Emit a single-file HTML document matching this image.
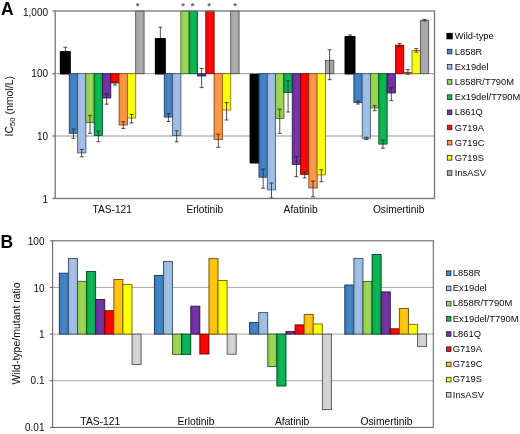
<!DOCTYPE html>
<html lang="en"><head><meta charset="utf-8"><title>Figure</title>
<style>html,body{margin:0;padding:0;background:#fff}svg{display:block}</style></head>
<body><svg width="520" height="434" viewBox="0 0 520 434">
<rect width="520" height="434" fill="#fff"/>
<defs>
<linearGradient id="aWT" x1="0" x2="1" y1="0" y2="0"><stop offset="0" stop-color="#000000"/><stop offset="0.55" stop-color="#000000"/><stop offset="1" stop-color="#000000"/></linearGradient>
<linearGradient id="aL858R" x1="0" x2="1" y1="0" y2="0"><stop offset="0" stop-color="#3a7aba"/><stop offset="0.55" stop-color="#4686c8"/><stop offset="1" stop-color="#3a7aba"/></linearGradient>
<linearGradient id="aEx19del" x1="0" x2="1" y1="0" y2="0"><stop offset="0" stop-color="#96b6e0"/><stop offset="0.55" stop-color="#a4c2e8"/><stop offset="1" stop-color="#96b6e0"/></linearGradient>
<linearGradient id="aLT" x1="0" x2="1" y1="0" y2="0"><stop offset="0" stop-color="#8ecc4a"/><stop offset="0.55" stop-color="#9cd85c"/><stop offset="1" stop-color="#8ecc4a"/></linearGradient>
<linearGradient id="aET" x1="0" x2="1" y1="0" y2="0"><stop offset="0" stop-color="#00aa4c"/><stop offset="0.55" stop-color="#10b858"/><stop offset="1" stop-color="#00aa4c"/></linearGradient>
<linearGradient id="aL861Q" x1="0" x2="1" y1="0" y2="0"><stop offset="0" stop-color="#6c2c9c"/><stop offset="0.55" stop-color="#7636a8"/><stop offset="1" stop-color="#6c2c9c"/></linearGradient>
<linearGradient id="aG719A" x1="0" x2="1" y1="0" y2="0"><stop offset="0" stop-color="#f80000"/><stop offset="0.55" stop-color="#ff0808"/><stop offset="1" stop-color="#f80000"/></linearGradient>
<linearGradient id="aG719C" x1="0" x2="1" y1="0" y2="0"><stop offset="0" stop-color="#fa8e3c"/><stop offset="0.55" stop-color="#ff9a4c"/><stop offset="1" stop-color="#fa8e3c"/></linearGradient>
<linearGradient id="aG719S" x1="0" x2="1" y1="0" y2="0"><stop offset="0" stop-color="#fafa00"/><stop offset="0.55" stop-color="#ffff18"/><stop offset="1" stop-color="#fafa00"/></linearGradient>
<linearGradient id="aIns" x1="0" x2="1" y1="0" y2="0"><stop offset="0" stop-color="#a2a2a2"/><stop offset="0.55" stop-color="#adadad"/><stop offset="1" stop-color="#a2a2a2"/></linearGradient>
<linearGradient id="bWT" x1="0" x2="1" y1="0" y2="0"><stop offset="0" stop-color="#000000"/><stop offset="0.55" stop-color="#000000"/><stop offset="1" stop-color="#000000"/></linearGradient>
<linearGradient id="bL858R" x1="0" x2="1" y1="0" y2="0"><stop offset="0" stop-color="#3a7aba"/><stop offset="0.55" stop-color="#4686c8"/><stop offset="1" stop-color="#3a7aba"/></linearGradient>
<linearGradient id="bEx19del" x1="0" x2="1" y1="0" y2="0"><stop offset="0" stop-color="#96b6e0"/><stop offset="0.55" stop-color="#a4c2e8"/><stop offset="1" stop-color="#96b6e0"/></linearGradient>
<linearGradient id="bLT" x1="0" x2="1" y1="0" y2="0"><stop offset="0" stop-color="#8ecc4a"/><stop offset="0.55" stop-color="#9cd85c"/><stop offset="1" stop-color="#8ecc4a"/></linearGradient>
<linearGradient id="bET" x1="0" x2="1" y1="0" y2="0"><stop offset="0" stop-color="#00aa4c"/><stop offset="0.55" stop-color="#10b858"/><stop offset="1" stop-color="#00aa4c"/></linearGradient>
<linearGradient id="bL861Q" x1="0" x2="1" y1="0" y2="0"><stop offset="0" stop-color="#6c2c9c"/><stop offset="0.55" stop-color="#7636a8"/><stop offset="1" stop-color="#6c2c9c"/></linearGradient>
<linearGradient id="bG719A" x1="0" x2="1" y1="0" y2="0"><stop offset="0" stop-color="#f80000"/><stop offset="0.55" stop-color="#ff0808"/><stop offset="1" stop-color="#f80000"/></linearGradient>
<linearGradient id="bG719C" x1="0" x2="1" y1="0" y2="0"><stop offset="0" stop-color="#fabc00"/><stop offset="0.55" stop-color="#ffc818"/><stop offset="1" stop-color="#fabc00"/></linearGradient>
<linearGradient id="bG719S" x1="0" x2="1" y1="0" y2="0"><stop offset="0" stop-color="#fafa00"/><stop offset="0.55" stop-color="#ffff18"/><stop offset="1" stop-color="#fafa00"/></linearGradient>
<linearGradient id="bIns" x1="0" x2="1" y1="0" y2="0"><stop offset="0" stop-color="#cacaca"/><stop offset="0.55" stop-color="#d6d6d6"/><stop offset="1" stop-color="#cacaca"/></linearGradient>
</defs>
<g stroke="#8a8a8a" stroke-width="0.9" fill="none">
<line x1="55.2" y1="136.0" x2="434.5" y2="136.0"/>
<line x1="55.2" y1="73.7" x2="434.5" y2="73.7"/>
</g>
<g><rect x="59.85" y="51.00" width="11.00" height="23.50" rx="1.2" fill="#000"/><rect x="69.20" y="73.70" width="8.41" height="59.60" fill="url(#aL858R)" stroke="#18334e" stroke-width="0.75"/><rect x="77.51" y="73.70" width="8.41" height="79.20" fill="url(#aEx19del)" stroke="#3f4c5e" stroke-width="0.75"/><rect x="85.82" y="73.70" width="8.41" height="49.00" fill="url(#aLT)" stroke="#3b551f" stroke-width="0.75"/><rect x="94.13" y="73.70" width="8.41" height="61.90" fill="url(#aET)" stroke="#00471f" stroke-width="0.75"/><rect x="102.44" y="73.70" width="8.41" height="24.30" fill="url(#aL861Q)" stroke="#2d1241" stroke-width="0.75"/><rect x="110.75" y="73.70" width="8.41" height="9.30" fill="url(#aG719A)" stroke="#680000" stroke-width="0.75"/><rect x="119.06" y="73.70" width="8.41" height="51.30" fill="url(#aG719C)" stroke="#693b19" stroke-width="0.75"/><rect x="127.37" y="73.70" width="8.41" height="44.30" fill="url(#aG719S)" stroke="#696900" stroke-width="0.75"/><rect x="135.68" y="11.00" width="8.41" height="62.70" fill="url(#aIns)" stroke="#444444" stroke-width="0.75"/><rect x="154.85" y="38.00" width="11.00" height="36.50" rx="1.2" fill="#000"/><rect x="164.20" y="73.70" width="8.41" height="43.40" fill="url(#aL858R)" stroke="#18334e" stroke-width="0.75"/><rect x="172.51" y="73.70" width="8.41" height="61.90" fill="url(#aEx19del)" stroke="#3f4c5e" stroke-width="0.75"/><rect x="180.82" y="11.00" width="8.41" height="62.70" fill="url(#aLT)" stroke="#3b551f" stroke-width="0.75"/><rect x="189.13" y="11.00" width="8.41" height="62.70" fill="url(#aET)" stroke="#00471f" stroke-width="0.75"/><rect x="197.44" y="73.70" width="8.41" height="2.30" fill="url(#aL861Q)" stroke="#2d1241" stroke-width="0.75"/><rect x="205.75" y="11.00" width="8.41" height="62.70" fill="url(#aG719A)" stroke="#680000" stroke-width="0.75"/><rect x="214.06" y="73.70" width="8.41" height="65.80" fill="url(#aG719C)" stroke="#693b19" stroke-width="0.75"/><rect x="222.37" y="73.70" width="8.41" height="36.30" fill="url(#aG719S)" stroke="#696900" stroke-width="0.75"/><rect x="230.68" y="11.00" width="8.41" height="62.70" fill="url(#aIns)" stroke="#444444" stroke-width="0.75"/><rect x="249.60" y="73.70" width="11.00" height="89.80" rx="1.2" fill="#000"/><rect x="258.95" y="73.70" width="8.41" height="103.50" fill="url(#aL858R)" stroke="#18334e" stroke-width="0.75"/><rect x="267.26" y="73.70" width="8.41" height="116.20" fill="url(#aEx19del)" stroke="#3f4c5e" stroke-width="0.75"/><rect x="275.57" y="73.70" width="8.41" height="44.70" fill="url(#aLT)" stroke="#3b551f" stroke-width="0.75"/><rect x="283.88" y="73.70" width="8.41" height="18.70" fill="url(#aET)" stroke="#00471f" stroke-width="0.75"/><rect x="292.19" y="73.70" width="8.41" height="90.80" fill="url(#aL861Q)" stroke="#2d1241" stroke-width="0.75"/><rect x="300.50" y="73.70" width="8.41" height="100.70" fill="url(#aG719A)" stroke="#680000" stroke-width="0.75"/><rect x="308.81" y="73.70" width="8.41" height="114.30" fill="url(#aG719C)" stroke="#693b19" stroke-width="0.75"/><rect x="317.12" y="73.70" width="8.41" height="101.20" fill="url(#aG719S)" stroke="#696900" stroke-width="0.75"/><rect x="325.43" y="60.30" width="8.41" height="13.40" fill="url(#aIns)" stroke="#444444" stroke-width="0.75"/><rect x="344.50" y="36.00" width="11.00" height="38.50" rx="1.2" fill="#000"/><rect x="353.85" y="73.70" width="8.41" height="28.80" fill="url(#aL858R)" stroke="#18334e" stroke-width="0.75"/><rect x="362.16" y="73.70" width="8.41" height="64.60" fill="url(#aEx19del)" stroke="#3f4c5e" stroke-width="0.75"/><rect x="370.47" y="73.70" width="8.41" height="34.20" fill="url(#aLT)" stroke="#3b551f" stroke-width="0.75"/><rect x="378.78" y="73.70" width="8.41" height="70.40" fill="url(#aET)" stroke="#00471f" stroke-width="0.75"/><rect x="387.09" y="73.70" width="8.41" height="19.30" fill="url(#aL861Q)" stroke="#2d1241" stroke-width="0.75"/><rect x="395.40" y="45.10" width="8.41" height="28.60" fill="url(#aG719A)" stroke="#680000" stroke-width="0.75"/><rect x="403.71" y="72.50" width="8.41" height="1.20" fill="url(#aG719C)" stroke="#693b19" stroke-width="0.75"/><rect x="412.02" y="50.40" width="8.41" height="23.30" fill="url(#aG719S)" stroke="#696900" stroke-width="0.75"/><rect x="420.33" y="20.20" width="8.41" height="53.50" fill="url(#aIns)" stroke="#444444" stroke-width="0.75"/></g>
<g stroke="#222" stroke-width="0.8" fill="none"><path d="M65.35 47.20V51.00M63.35 47.20h4"/><path d="M73.41 129.10V138.30M71.41 129.10h4M71.41 138.30h4"/><path d="M81.72 149.40V156.80M79.72 149.40h4M79.72 156.80h4"/><path d="M90.03 115.30V133.30M88.03 115.30h4M88.03 133.30h4"/><path d="M98.33 131.00V141.80M96.33 131.00h4M96.33 141.80h4"/><path d="M106.64 93.90V104.20M104.64 93.90h4M104.64 104.20h4"/><path d="M114.95 82.00V85.00M112.95 82.00h4M112.95 85.00h4"/><path d="M123.27 121.80V128.40M121.27 121.80h4M121.27 128.40h4"/><path d="M131.57 114.60V122.90M129.57 114.60h4M129.57 122.90h4"/><path d="M160.35 27.20V38.00M158.35 27.20h4"/><path d="M168.40 113.50V121.50M166.40 113.50h4M166.40 121.50h4"/><path d="M176.71 130.70V141.80M174.71 130.70h4M174.71 141.80h4"/><path d="M201.64 68.50V87.60M199.64 68.50h4M199.64 87.60h4"/><path d="M218.26 134.20V147.30M216.26 134.20h4M216.26 147.30h4"/><path d="M226.57 102.60V120.00M224.57 102.60h4M224.57 120.00h4"/><path d="M263.15 169.10V188.20M261.15 169.10h4M261.15 188.20h4"/><path d="M271.47 183.00V198.00M269.47 183.00h4M269.47 198.00h4"/><path d="M279.77 109.20V133.40M277.77 109.20h4M277.77 133.40h4"/><path d="M288.09 80.80V112.00M286.09 80.80h4M286.09 112.00h4"/><path d="M296.39 156.50V176.70M294.39 156.50h4M294.39 176.70h4"/><path d="M304.71 172.10V177.90M302.71 172.10h4M302.71 177.90h4"/><path d="M313.01 181.10V196.80M311.01 181.10h4M311.01 196.80h4"/><path d="M321.33 169.80V181.80M319.33 169.80h4M319.33 181.80h4"/><path d="M329.63 49.80V79.70M327.63 49.80h4M327.63 79.70h4"/><path d="M350.00 34.90V36.00M348.00 34.90h4"/><path d="M358.06 101.20V104.00M356.06 101.20h4M356.06 104.00h4"/><path d="M366.37 137.20V139.50M364.37 137.20h4M364.37 139.50h4"/><path d="M374.68 105.60V110.70M372.68 105.60h4M372.68 110.70h4"/><path d="M382.99 140.20V148.20M380.99 140.20h4M380.99 148.20h4"/><path d="M391.30 87.80V100.70M389.30 87.80h4M389.30 100.70h4"/><path d="M399.61 43.40V46.80M397.61 43.40h4M397.61 46.80h4"/><path d="M407.92 69.70V74.20M405.92 69.70h4M405.92 74.20h4"/><path d="M416.23 48.70V52.00M414.23 48.70h4M414.23 52.00h4"/><path d="M424.54 19.40V21.00M422.54 19.40h4M422.54 21.00h4"/></g>
<g stroke="#747474" stroke-width="1.3" fill="none">
<rect x="55.2" y="11.0" width="379.3" height="187.5"/>
<line x1="52.400000000000006" y1="11.0" x2="55.2" y2="11.0"/>
<line x1="52.400000000000006" y1="73.7" x2="55.2" y2="73.7"/>
<line x1="52.400000000000006" y1="136.0" x2="55.2" y2="136.0"/>
<line x1="52.400000000000006" y1="198.5" x2="55.2" y2="198.5"/>
</g>
<text x="137.70" y="9.00" font-family="'Liberation Sans', Arial, sans-serif" font-size="9.5" font-weight="bold" text-anchor="middle" fill="#625c5c">*</text>
<text x="183.20" y="9.00" font-family="'Liberation Sans', Arial, sans-serif" font-size="9.5" font-weight="bold" text-anchor="middle" fill="#625c5c">*</text>
<text x="192.50" y="9.00" font-family="'Liberation Sans', Arial, sans-serif" font-size="9.5" font-weight="bold" text-anchor="middle" fill="#625c5c">*</text>
<text x="209.00" y="9.00" font-family="'Liberation Sans', Arial, sans-serif" font-size="9.5" font-weight="bold" text-anchor="middle" fill="#625c5c">*</text>
<text x="235.10" y="9.00" font-family="'Liberation Sans', Arial, sans-serif" font-size="9.5" font-weight="bold" text-anchor="middle" fill="#625c5c">*</text>
<g font-family="'Liberation Sans', Arial, sans-serif" fill="#0a0a0a">
<text x="0.9" y="14.9" font-size="17.5" font-weight="bold" fill="#000">A</text>
<text x="48.05" y="15.6" font-size="10" text-anchor="end">1,000</text>
<text x="48.05" y="77.2" font-size="10" text-anchor="end">100</text>
<text x="48.05" y="139.6" font-size="10" text-anchor="end">10</text>
<text x="48.05" y="202.8" font-size="10" text-anchor="end">1</text>
<text x="112.2" y="212.8" font-size="10.2" text-anchor="middle">TAS-121</text>
<text x="204.8" y="212.8" font-size="10.2" text-anchor="middle">Erlotinib</text>
<text x="300.6" y="212.8" font-size="10.2" text-anchor="middle">Afatinib</text>
<text x="398.7" y="212.8" font-size="10.2" text-anchor="middle">Osimertinib</text>
<text transform="translate(12.6,106.2) rotate(-90)" font-size="10.5" text-anchor="middle">IC<tspan font-size="7.6" dy="2.8">50</tspan><tspan dy="-2.8"> (nmol/L)</tspan></text>
<rect x="446.4" y="32.90" width="6.4" height="6.4" fill="#000"/>
<text x="454.8" y="39.45" font-size="9.35">Wild-type</text>
<rect x="447.3" y="49.28" width="4.6" height="4.6" fill="#4686c8" stroke="#1c2630" stroke-width="0.8"/>
<text x="454.8" y="54.63" font-size="9.35">L858R</text>
<rect x="447.3" y="64.46" width="4.6" height="4.6" fill="#a4c2e8" stroke="#1c2630" stroke-width="0.8"/>
<text x="454.8" y="69.81" font-size="9.35">Ex19del</text>
<rect x="447.3" y="79.64" width="4.6" height="4.6" fill="#9cd85c" stroke="#1c2630" stroke-width="0.8"/>
<text x="454.8" y="84.99" font-size="9.35">L858R/T790M</text>
<rect x="447.3" y="94.82" width="4.6" height="4.6" fill="#10b858" stroke="#1c2630" stroke-width="0.8"/>
<text x="454.8" y="100.17" font-size="9.35">Ex19del/T790M</text>
<rect x="447.3" y="110.00" width="4.6" height="4.6" fill="#7636a8" stroke="#1c2630" stroke-width="0.8"/>
<text x="454.8" y="115.35" font-size="9.35">L861Q</text>
<rect x="447.3" y="125.18" width="4.6" height="4.6" fill="#ff0808" stroke="#1c2630" stroke-width="0.8"/>
<text x="454.8" y="130.53" font-size="9.35">G719A</text>
<rect x="447.3" y="140.36" width="4.6" height="4.6" fill="#ff9a4c" stroke="#1c2630" stroke-width="0.8"/>
<text x="454.8" y="145.71" font-size="9.35">G719C</text>
<rect x="447.3" y="155.54" width="4.6" height="4.6" fill="#ffff18" stroke="#1c2630" stroke-width="0.8"/>
<text x="454.8" y="160.89" font-size="9.35">G719S</text>
<rect x="447.3" y="170.72" width="4.6" height="4.6" fill="#adadad" stroke="#1c2630" stroke-width="0.8"/>
<text x="454.8" y="176.07" font-size="9.35">InsASV</text>
</g>
<g stroke="#8a8a8a" stroke-width="0.75" fill="none">
<line x1="52.6" y1="287.4" x2="433.3" y2="287.4"/>
<line x1="52.6" y1="334.1" x2="433.3" y2="334.1"/>
<line x1="52.6" y1="380.7" x2="433.3" y2="380.7"/>
</g>
<g><rect x="59.30" y="273.20" width="9.09" height="60.90" fill="url(#bL858R)" stroke="#18334e" stroke-width="0.9"/><rect x="68.39" y="258.50" width="9.09" height="75.60" fill="url(#bEx19del)" stroke="#3f4c5e" stroke-width="0.9"/><rect x="77.48" y="281.30" width="9.09" height="52.80" fill="url(#bLT)" stroke="#3b551f" stroke-width="0.9"/><rect x="86.57" y="271.40" width="9.09" height="62.70" fill="url(#bET)" stroke="#00471f" stroke-width="0.9"/><rect x="95.66" y="299.50" width="9.09" height="34.60" fill="url(#bL861Q)" stroke="#2d1241" stroke-width="0.9"/><rect x="104.75" y="310.70" width="9.09" height="23.40" fill="url(#bG719A)" stroke="#680000" stroke-width="0.9"/><rect x="113.84" y="279.50" width="9.09" height="54.60" fill="url(#bG719C)" stroke="#694e00" stroke-width="0.9"/><rect x="122.93" y="284.60" width="9.09" height="49.50" fill="url(#bG719S)" stroke="#696900" stroke-width="0.9"/><rect x="132.02" y="334.10" width="9.09" height="30.30" fill="url(#bIns)" stroke="#545454" stroke-width="0.9"/><rect x="154.40" y="275.40" width="9.09" height="58.70" fill="url(#bL858R)" stroke="#18334e" stroke-width="0.9"/><rect x="163.49" y="261.50" width="9.09" height="72.60" fill="url(#bEx19del)" stroke="#3f4c5e" stroke-width="0.9"/><rect x="172.58" y="334.10" width="9.09" height="20.30" fill="url(#bLT)" stroke="#3b551f" stroke-width="0.9"/><rect x="181.67" y="334.10" width="9.09" height="20.30" fill="url(#bET)" stroke="#00471f" stroke-width="0.9"/><rect x="190.76" y="306.20" width="9.09" height="27.90" fill="url(#bL861Q)" stroke="#2d1241" stroke-width="0.9"/><rect x="199.85" y="334.10" width="9.09" height="19.90" fill="url(#bG719A)" stroke="#680000" stroke-width="0.9"/><rect x="208.94" y="258.60" width="9.09" height="75.50" fill="url(#bG719C)" stroke="#694e00" stroke-width="0.9"/><rect x="218.03" y="280.50" width="9.09" height="53.60" fill="url(#bG719S)" stroke="#696900" stroke-width="0.9"/><rect x="227.12" y="334.10" width="9.09" height="20.10" fill="url(#bIns)" stroke="#545454" stroke-width="0.9"/><rect x="249.60" y="322.50" width="9.09" height="11.60" fill="url(#bL858R)" stroke="#18334e" stroke-width="0.9"/><rect x="258.69" y="312.60" width="9.09" height="21.50" fill="url(#bEx19del)" stroke="#3f4c5e" stroke-width="0.9"/><rect x="267.78" y="334.10" width="9.09" height="32.40" fill="url(#bLT)" stroke="#3b551f" stroke-width="0.9"/><rect x="276.87" y="334.10" width="9.09" height="51.90" fill="url(#bET)" stroke="#00471f" stroke-width="0.9"/><rect x="285.96" y="331.60" width="9.09" height="2.50" fill="url(#bL861Q)" stroke="#2d1241" stroke-width="0.9"/><rect x="295.05" y="324.90" width="9.09" height="9.20" fill="url(#bG719A)" stroke="#680000" stroke-width="0.9"/><rect x="304.14" y="314.40" width="9.09" height="19.70" fill="url(#bG719C)" stroke="#694e00" stroke-width="0.9"/><rect x="313.23" y="324.00" width="9.09" height="10.10" fill="url(#bG719S)" stroke="#696900" stroke-width="0.9"/><rect x="322.32" y="334.10" width="9.09" height="75.50" fill="url(#bIns)" stroke="#545454" stroke-width="0.9"/><rect x="344.80" y="285.00" width="9.09" height="49.10" fill="url(#bL858R)" stroke="#18334e" stroke-width="0.9"/><rect x="353.89" y="258.40" width="9.09" height="75.70" fill="url(#bEx19del)" stroke="#3f4c5e" stroke-width="0.9"/><rect x="362.98" y="281.40" width="9.09" height="52.70" fill="url(#bLT)" stroke="#3b551f" stroke-width="0.9"/><rect x="372.07" y="254.50" width="9.09" height="79.60" fill="url(#bET)" stroke="#00471f" stroke-width="0.9"/><rect x="381.16" y="291.90" width="9.09" height="42.20" fill="url(#bL861Q)" stroke="#2d1241" stroke-width="0.9"/><rect x="390.25" y="328.80" width="9.09" height="5.30" fill="url(#bG719A)" stroke="#680000" stroke-width="0.9"/><rect x="399.34" y="308.40" width="9.09" height="25.70" fill="url(#bG719C)" stroke="#694e00" stroke-width="0.9"/><rect x="408.43" y="324.30" width="9.09" height="9.80" fill="url(#bG719S)" stroke="#696900" stroke-width="0.9"/><rect x="417.52" y="334.10" width="9.09" height="12.30" fill="url(#bIns)" stroke="#545454" stroke-width="0.9"/></g>
<g stroke="#626262" stroke-width="1.05" fill="none">
<rect x="52.6" y="240.8" width="380.7" height="186.59999999999997"/>
<line x1="49.800000000000004" y1="240.8" x2="52.6" y2="240.8"/>
<line x1="49.800000000000004" y1="287.4" x2="52.6" y2="287.4"/>
<line x1="49.800000000000004" y1="334.1" x2="52.6" y2="334.1"/>
<line x1="49.800000000000004" y1="380.7" x2="52.6" y2="380.7"/>
<line x1="49.800000000000004" y1="427.4" x2="52.6" y2="427.4"/>
</g>
<g font-family="'Liberation Sans', Arial, sans-serif" fill="#0a0a0a">
<text x="0.6" y="248.2" font-size="17.5" font-weight="bold" fill="#000">B</text>
<text x="44.5" y="244.6" font-size="10" text-anchor="end">100</text>
<text x="44.5" y="291.6" font-size="10" text-anchor="end">10</text>
<text x="44.5" y="337.6" font-size="10" text-anchor="end">1</text>
<text x="44.5" y="383.9" font-size="10" text-anchor="end">0.1</text>
<text x="44.5" y="430.5" font-size="10" text-anchor="end">0.01</text>
<text x="100.3" y="425.2" font-size="10.3" text-anchor="middle">TAS-121</text>
<text x="196.0" y="425.2" font-size="10.3" text-anchor="middle">Erlotinib</text>
<text x="292.1" y="425.2" font-size="10.3" text-anchor="middle">Afatinib</text>
<text x="386.5" y="425.2" font-size="10.3" text-anchor="middle">Osimertinib</text>
<text transform="translate(20,333.4) rotate(-90)" font-size="10.5" text-anchor="middle">Wild-type/mutant ratio</text>
<rect x="446.4" y="270.90" width="4.6" height="4.6" fill="#4686c8" stroke="#1c2630" stroke-width="0.8"/>
<text x="452.8" y="276.00" font-size="9.4">L858R</text>
<rect x="446.4" y="286.10" width="4.6" height="4.6" fill="#a4c2e8" stroke="#1c2630" stroke-width="0.8"/>
<text x="452.8" y="291.20" font-size="9.4">Ex19del</text>
<rect x="446.4" y="301.30" width="4.6" height="4.6" fill="#9cd85c" stroke="#1c2630" stroke-width="0.8"/>
<text x="452.8" y="306.40" font-size="9.4">L858R/T790M</text>
<rect x="446.4" y="316.50" width="4.6" height="4.6" fill="#10b858" stroke="#1c2630" stroke-width="0.8"/>
<text x="452.8" y="321.60" font-size="9.4">Ex19del/T790M</text>
<rect x="446.4" y="331.70" width="4.6" height="4.6" fill="#7636a8" stroke="#1c2630" stroke-width="0.8"/>
<text x="452.8" y="336.80" font-size="9.4">L861Q</text>
<rect x="446.4" y="346.90" width="4.6" height="4.6" fill="#ff0808" stroke="#1c2630" stroke-width="0.8"/>
<text x="452.8" y="352.00" font-size="9.4">G719A</text>
<rect x="446.4" y="362.10" width="4.6" height="4.6" fill="#ffc818" stroke="#1c2630" stroke-width="0.8"/>
<text x="452.8" y="367.20" font-size="9.4">G719C</text>
<rect x="446.4" y="377.30" width="4.6" height="4.6" fill="#ffff18" stroke="#1c2630" stroke-width="0.8"/>
<text x="452.8" y="382.40" font-size="9.4">G719S</text>
<rect x="446.4" y="392.50" width="4.6" height="4.6" fill="#d6d6d6" stroke="#1c2630" stroke-width="0.8"/>
<text x="452.8" y="397.60" font-size="9.4">InsASV</text>
</g>
</svg></body></html>
